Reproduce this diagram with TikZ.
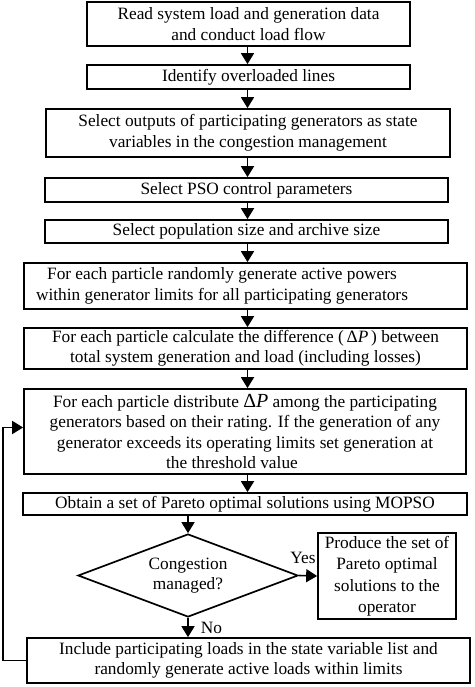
\documentclass[tikz,border=0pt]{standalone}
\usepackage{fontspec}
\setmainfont{Liberation Serif}
\usetikzlibrary{arrows.meta,shapes.geometric}
\newcommand\boxfont{\fontsize{17.3}{20.5}\selectfont}
\begin{document}
\begin{tikzpicture}[x=1pt,y=-1pt,font=\boxfont,
  box/.style={draw, line width=1.7pt, rectangle, inner sep=0pt, align=center},
  arr/.style={line width=1.6pt, -{Triangle[length=11pt,width=13pt]}},
  lbl/.style={inner sep=0pt}]
\fill[white] (0,0) rectangle (474,687);
\useasboundingbox (0,0) rectangle (474,687);

\node[box, minimum width=323pt, minimum height=44pt] (b1) at (248.5,24)
  {Read system load and generation data\\and conduct load flow};
\node[box, minimum width=323pt, minimum height=24pt] (b2) at (248.5,77)
  {Identify overloaded lines};
\node[box, minimum width=404pt, minimum height=48pt] (b3) at (248,133)
  {Select outputs of participating generators as state\\variables in the congestion management};
\node[box, minimum width=403pt, minimum height=24pt] (b4) at (246.5,190)
  {Select PSO control parameters};
\node[box, minimum width=403pt, minimum height=23pt] (b5) at (246.5,231.5)
  {Select population size and archive size};
\node[box, minimum width=443pt, minimum height=46pt] (b6) at (245.5,286)
  {For each particle randomly generate active powers\hspace*{47pt}\\within generator limits for all participating generators\hspace*{47pt}};
\node[box, minimum width=443pt, minimum height=41pt] (b7) at (245.5,348.5)
  {For each particle calculate the difference (\,Δ\textit{P}\,) between\\total system generation and load (including losses)};
\node[box, minimum width=442pt, minimum height=85pt] (b8) at (245,431.5)
  {For each particle distribute {\fontsize{20}{20}\selectfont Δ\textit{P}} among the participating\\generators based on their rating. If the generation of any\\generator exceeds its operating limits set generation at\hspace*{26pt}\\the threshold value\hspace*{26pt}};
\node[box, minimum width=444pt, minimum height=22pt] (b9) at (245,504)
  {Obtain a set of Pareto optimal solutions using MOPSO};
\node[diamond, draw, line width=1.7pt, aspect=2.65, inner sep=0pt,
  minimum width=220pt, minimum height=83pt, align=center] (dia) at (188,575.5)
  {Congestion\\managed?};
\node[box, minimum width=138pt, minimum height=86pt, font=\fontsize{17.3}{21.5}\selectfont] (prod) at (387,576)
  {Produce the set of\\Pareto optimal\\solutions to the\\operator};
\node[box, minimum width=443pt, minimum height=45pt] (b10) at (248.5,660.5)
  {Include participating loads in the state variable list and\\randomly generate active loads within limits};

\coordinate (col) at (247.5,0);
\draw[arr] (col |- b1.south) -- (col |- b2.north);
\draw[arr] (col |- b2.south) -- (col |- b3.north);
\draw[arr] (col |- b3.south) -- (col |- b4.north);
\draw[arr] (col |- b4.south) -- (col |- b5.north);
\draw[arr] (col |- b5.south) -- (col |- b6.north);
\draw[arr] (col |- b6.south) -- (col |- b7.north);
\draw[arr] (col |- b7.south) -- (col |- b8.north);
\draw[arr] (col |- b8.south) -- (col |- b9.north);
\draw[arr] (dia.north |- b9.south) -- (dia.north);
\draw[arr] (dia.east) -- node[lbl, above, xshift=-5pt, yshift=11pt] {Yes} (prod.west);
\draw[arr] (dia.south) -- node[lbl, right, xshift=12pt] {No} (dia.south |- b10.north);
\draw[arr] (b10.west) -- ++(-23,0) |- ([yshift=4pt]b8.west);
\end{tikzpicture}
\end{document}
